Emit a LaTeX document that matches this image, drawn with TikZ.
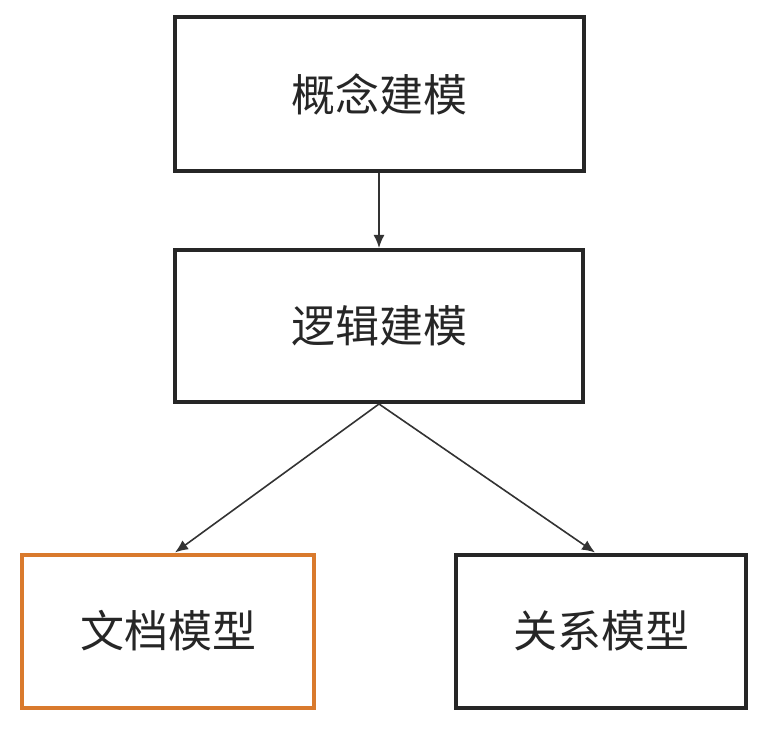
\documentclass[tikz,border=0pt]{standalone}
\usepackage{fontspec}
\usepackage{xcolor}
\newfontfamily\cjk{Noto Sans CJK SC}
\definecolor{boxorange}{RGB}{217,122,45}
\usetikzlibrary{positioning,arrows.meta}

\begin{document}
\begin{tikzpicture}[x=1pt,y=1pt,
        modelbox/.style={draw=black!85, line width=4pt, inner sep=0pt, font=\cjk\fontsize{44}{44}\selectfont, text=black!85},
        link/.style={-{Latex[length=13pt,width=11pt]}, line width=1.6pt, draw=black!80}]
        \useasboundingbox (0,0) rectangle (768,-735);

        % modelling stages
        \node[modelbox, minimum width=409pt, minimum height=154pt] (concept) at (379,-94) {概念建模};
        \node[modelbox, minimum width=408pt, minimum height=152pt] (logic) at (379,-326) {逻辑建模};

        % the two models
        \node[modelbox, draw=boxorange, minimum width=292pt, minimum height=153pt] (doc) at (168,-631) {文档模型};
        \node[modelbox, minimum width=290pt, minimum height=153pt] (rel) at (601,-631) {关系模型};

        \draw[link] (concept.south) -- (logic.north);
        \draw[link] (logic.south) -- ([xshift=7pt]doc.north);
        \draw[link] (logic.south) -- ([xshift=-6pt]rel.north);
    \end{tikzpicture}
\end{document}
